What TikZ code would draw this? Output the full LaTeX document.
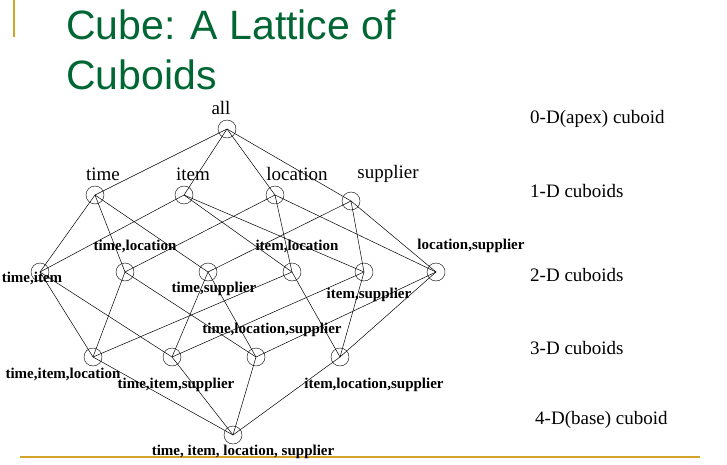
\documentclass[tikz,border=0pt]{standalone}
\usepackage{fontspec}
\setmainfont{Liberation Serif}
\newfontfamily\titlefont{Liberation Sans}
\definecolor{tgreen}{HTML}{006633}
\definecolor{gold}{HTML}{D4A32A}
\begin{document}
\begin{tikzpicture}[x=1pt,y=-1pt,
  cub/.style={circle,draw,inner sep=0pt,minimum size=18pt},
  lab/.style={font=\fontsize{15}{16}\selectfont\bfseries,inner sep=0pt},
  top/.style={font=\fontsize{19}{20}\selectfont,inner sep=0pt},
  side/.style={font=\fontsize{19}{20}\selectfont,inner sep=0pt},
  e/.style={line width=0.5pt}]
\useasboundingbox (0,0) rectangle (727,465);
\fill[gold] (13,0) rectangle (15,37);
\fill[gold] (20,456) rectangle (700,458);
\node[anchor=north west,align=left,text=tgreen,inner sep=0pt,font=\titlefont\fontsize{41}{50}\selectfont] (title) at (66,10) {Cube: A Lattice of\\Cuboids};
% nodes
\node[cub] (all) at (227,129) {};
\node[cub] (t) at (95,195) {};
\node[cub] (i) at (184,195) {};
\node[cub] (l) at (275,195) {};
\node[cub] (s) at (351,201) {};
\node[cub] (ti) at (40,272) {};
\node[cub] (tl) at (125,272) {};
\node[cub] (ts) at (208,272) {};
\node[cub] (il) at (292,272) {};
\node[cub] (is) at (364,272) {};
\node[cub] (ls) at (436,272) {};
\node[cub] (til) at (93,357) {};
\node[cub] (tis) at (172,357) {};
\node[cub] (tls) at (256,357) {};
\node[cub] (ils) at (340,357) {};
\node[cub] (b) at (233,435) {};
% edges
\foreach \a/\c in {all/t,all/i,all/l,all/s,
  t/ti,t/tl,t/ts,i/ti,i/il,i/is,l/tl,l/il,l/ls,s/ts,s/is,s/ls,
  ti/til,ti/tis,tl/til,tl/tls,ts/tis,ts/tls,il/til,il/ils,is/tis,is/ils,ls/tls,ls/ils,
  til/b,tis/b,tls/b,ils/b}
  \draw[e] (\a.center) -- (\c.center);
% labels
\node[top] (lall) at (221,108) {all};
\node[top] (lt) at (103,174) {time};
\node[top] (li) at (193,174) {item};
\node[top] (ll) at (297,174) {location};
\node[top] (ls2) at (388,174) {supplier};
\node[lab] (lti) at (32,278) {time,item};
\node[lab] (ltl) at (135,246) {time,location};
\node[lab] (lil) at (297,246) {item,location};
\node[lab] (lls) at (471,246) {location,supplier};
\node[lab] (lts) at (214,289) {time,supplier};
\node[lab] (lis) at (369,295) {item,supplier};
\node[lab] (ltls) at (272,330) {time,location,supplier};
\node[lab] (ltil) at (63,374) {time,item,location};
\node[lab] (ltis) at (176,385) {time,item,supplier};
\node[lab] (lils) at (374,385) {item,location,supplier};
\node[lab] (lb) at (243,452) {time, item, location, supplier};
% side labels
\node[side,anchor=west] (d0) at (530,119) {0-D(apex) cuboid};
\node[side,anchor=west] (d1) at (530,191) {1-D cuboids};
\node[side,anchor=west] (d2) at (530,275) {2-D cuboids};
\node[side,anchor=west] (d3) at (530,348) {3-D cuboids};
\node[side,anchor=west] (d4) at (535,420) {4-D(base) cuboid};
\end{tikzpicture}
\end{document}
